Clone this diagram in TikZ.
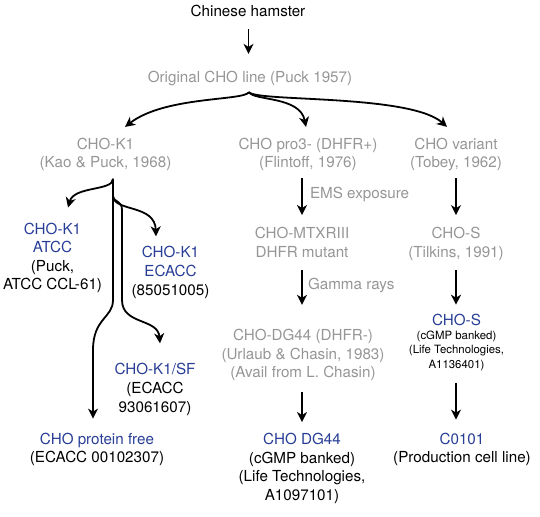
\documentclass[tikz,border=0pt]{standalone}
\usepackage{fontspec}
\setmainfont{TeX Gyre Heros}
\usetikzlibrary{arrows.meta,calc}
\definecolor{cgrey}{RGB}{150,150,150}
\definecolor{cblue}{RGB}{40,62,150}
\begin{document}
\begin{tikzpicture}[x=0.5pt,y=-0.5pt,
  txt/.style={inner sep=0pt, outer sep=0pt, align=center, font=\fontsize{7.6}{9.3}\selectfont},
  gtxt/.style={txt, text=cgrey},
  btxt/.style={txt, text=cblue},
  stxt/.style={inner sep=0pt, outer sep=0pt, align=center, font=\fontsize{5.7}{7.25}\selectfont},
  arr/.style={line width=0.9pt, -{Stealth[length=5pt,width=5pt,inset=1.5pt]}},
]
\useasboundingbox (0,0) rectangle (540,516);

\node[txt] (hamster) at (248,11) {Chinese hamster};
\node[gtxt] (orig) at (250,78.5) {Original CHO line (Puck 1957)};
\node[gtxt] (k1) at (105.5,154.6) {CHO-K1\\(Kao \& Puck, 1968)};
\node[gtxt] (pro3) at (308,154.6) {CHO pro3- (DHFR+)\\(Flintoff, 1976)};
\node[gtxt] (variant) at (456,154.6) {CHO variant\\(Tobey, 1962)};
\node[txt] (atcc) at (52.5,258) {\textcolor{cblue}{CHO-K1}\\\textcolor{cblue}{ATCC}\\(Puck,\\ATCC CCL-61)};
\node[txt] (ecacc) at (170.5,272.5) {\textcolor{cblue}{CHO-K1}\\\textcolor{cblue}{ECACC}\\(85051005)};
\node[txt] (sf) at (155,389.5) {\textcolor{cblue}{CHO-K1/SF}\\(ECACC\\93061607)};
\node[txt] (pfree) at (97,449.5) {\textcolor{cblue}{CHO protein free}\\(ECACC 00102307)};
\node[gtxt] (mtx) at (302,242.4) {CHO-MTXRIII\\DHFR mutant};
\node[gtxt] (dg44) at (303,355) {CHO-DG44 (DHFR-)\\(Urlaub \& Chasin, 1983)\\(Avail from L. Chasin)};
\node[txt] (dg44b) at (302,468.5) {\textcolor{cblue}{CHO DG44}\\(cGMP banked)\\(Life Technologies,\\A1097101)};
\node[gtxt] (chosa) at (456,244) {CHO-S\\(Tilkins, 1991)};
\node[btxt] (chosb) at (456.5,320) {CHO-S};
\node[stxt] (chosc) at (456.5,350.6) {(cGMP banked)\\(Life Technologies,\\A1136401)};
\node[txt] (c0101) at (462,449.5) {\textcolor{cblue}{C0101}\\(Production cell line)};

% top
\draw[arr] ($(hamster.south)+(0.5,12.5)$) -- ($(orig.north)+(-1.5,-17.3)$);
\draw[arr] ($(orig.south)+(-1,6.3)$) .. controls (244,101) and (165,96) .. ($(k1.north)+(19.5,-11.1)$);
\draw[arr] ($(orig.south)+(-1,6.3)$) .. controls (254,101) and (300,96) .. ($(pro3.north)+(-2,-11.1)$);
\draw[arr] ($(orig.south)+(-1,6.3)$) .. controls (256,102) and (410,94) .. ($(variant.north)+(-9,-11.1)$);

% CHO-K1 branches
\draw[arr] ($(k1.south)+(7.5,7.8)$) .. controls (113,191) and (74,186) .. ($(atcc.north)+(15.5,-15.3)$);
\draw[arr] ($(k1.south)+(7.5,7.8)$) -- (113,196) .. controls (114,212) and (155,204) .. ($(ecacc.north)+(-14.5,-10.3)$);
\draw[arr] ($(k1.south)+(7.5,7.8)$) -- (113,196) .. controls (114,203) and (122,200) .. (122,210) -- (122,300) .. controls (122,325) and (158,318) .. ($(sf.north)+(5,-20.3)$);
\draw[arr] ($(k1.south)+(7.5,7.8)$) -- (113,300) .. controls (113,318) and (93,318) .. (93,350) -- ($(pfree.north)+(-4,-14.3)$);

% middle column
\draw[arr] ($(pro3.south)+(-6,6.8)$) -- node[gtxt, pos=0.45, anchor=west, xshift=4pt] (ems) {EMS exposure} ($(mtx.north)+(0,-12.3)$);
\draw[arr] ($(mtx.south)+(0,12.5)$) -- node[gtxt, pos=0.44, anchor=west, xshift=3pt] (gamma) {Gamma rays} ($(dg44.north)+(-1,-24.3)$);
\draw[arr] ($(dg44.south)+(-1,11.3)$) -- ($(dg44b.north)+(0,-11.3)$);

% right column
\draw[arr] ($(variant.south)+(0,6.8)$) -- ($(chosa.north)+(0,-12.3)$);
\draw[arr] ($(chosa.south)+(0,9.3)$) -- ($(chosb.north)+(-0.5,-9.5)$);
\draw[arr] ($(chosc.south)+(-0.5,12.4)$) -- ($(c0101.north)+(-6,-13.3)$);
\end{tikzpicture}
\end{document}
